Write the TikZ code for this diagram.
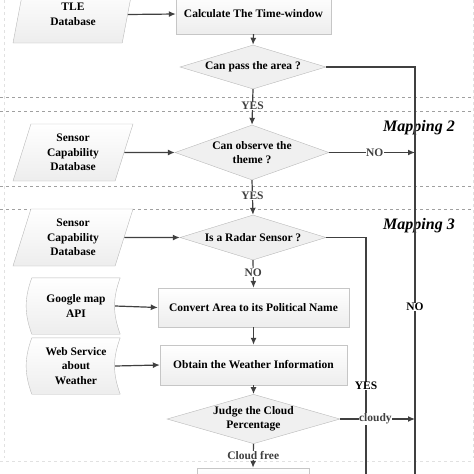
\documentclass[tikz,border=0pt]{standalone}
\usepackage{fontspec}
\setmainfont{Liberation Serif}
\usetikzlibrary{shapes.geometric,arrows.meta}
\definecolor{c1}{RGB}{240,240,240}
\definecolor{c2}{RGB}{64,64,64}
\definecolor{c3}{RGB}{160,160,160}
\definecolor{c4}{RGB}{225,225,225}

\begin{document}
\begin{tikzpicture}[x=1pt,y=-1pt,
    font=\bfseries\fontsize{11.5}{14.5}\selectfont,
    box/.style={rectangle,draw=gray!45,top color=white,bottom color=gray!14,inner sep=0pt},
    dec/.style={diamond,draw=gray!55,fill=c1,aspect=3.3,inner sep=0pt,align=center},
    data/.style={trapezium,trapezium left angle=64,trapezium right angle=116,
      trapezium stretches body,draw=gray!55,top color=white,bottom color=gray!14,
      minimum width=120,minimum height=57,inner sep=0pt,align=center},
    store/.style={rectangle,minimum width=88,minimum height=56,inner sep=0pt,align=center},
    ln/.style={c2,line width=1.2pt},
    arr/.style={ln,arrows={-Latex[length=7pt,width=6pt]}},
    lbl/.style={fill=white,inner sep=0.5pt},
    sep/.style={c3,dashed,line width=0.7pt}]
      \useasboundingbox (0,0) rectangle (474,474);
      \clip (0,0) rectangle (474,474);
      % region borders
      \draw[c4,dashed,line width=0.5pt] (4,0) -- (4,458);
      \draw[c4,dashed,line width=0.5pt] (473,0) -- (473,458);
      \draw[c4,dashed,line width=0.8pt] (0,461) -- (474,461);
      \draw[sep] (0,97) -- (472,97);
      \draw[sep] (0,111) -- (472,111);
      \draw[sep] (0,186) -- (472,186);
      \draw[sep] (0,209) -- (472,209);

      \node[data] (tle) at (73,14.5) {TLE\\Database};
      \node[box,minimum width=155,minimum height=40] (calc) at (253.5,14) {Calculate The Time-window};
      \node[dec,minimum width=146,minimum height=44] (pass) at (253,67) {Can pass the area ?};
      \node[data] (cap1) at (73,152.5) {Sensor\\Capability\\Database};
      \node[dec,minimum width=134,minimum height=55] (obs) at (252,152.5) {Can observe the\\theme ?};
      \node[data] (cap2) at (73,237.5) {Sensor\\Capability\\Database};
      \node[dec,minimum width=146,minimum height=45] (radar) at (253,237.5) {Is a Radar Sensor ?};
      \node[store] (gmap) at (76,306) {Google map\\API};
      \node[box,minimum width=191,minimum height=39] (conv) at (253.5,307.5) {Convert Area to its Political Name};
      \node[store] (web) at (76,366) {Web Service\\about\\Weather};
      \node[box,minimum width=187,minimum height=40] (wthr) at (253.5,365) {Obtain the Weather Information};
      \node[dec,minimum width=173,minimum height=43] (cloud) at (253.5,419) {Judge the Cloud\\Percentage};
      \node[box,minimum width=112,minimum height=30] (next) at (253,483) {};
      \node[font=\bfseries\itshape\fontsize{16}{18}\selectfont] (map2) at (419,128) {Mapping 2};
      \node[font=\bfseries\itshape\fontsize{16}{18}\selectfont] (map3) at (419,226) {Mapping 3};

      % stored data outlines
      \draw[draw=gray!55,top color=white,bottom color=gray!14] (gmap.north west) to[bend right=20] (gmap.south west)
        -- (gmap.south east) to[bend left=20] (gmap.north east) -- cycle;
      \draw[draw=gray!55,top color=white,bottom color=gray!14] (web.north west) to[bend right=20] (web.south west)
        -- (web.south east) to[bend left=20] (web.north east) -- cycle;
      \node[store] at (gmap) {Google map\\API};
      \node[store] at (web) {Web Service\\about\\Weather};

      \coordinate (r1) at (415,480);
      \coordinate (r2) at (366,480);
      \draw[arr] (tle.east) -- (calc.west);%tle-calc
      \draw[arr] (calc.south) -- (pass.north);%calc-pass
      \draw[ln] (pass.east) -| (r1);%pass-no
      \draw[arr] (pass.south) -- (obs.north) node[lbl,pos=0.47] {YES};%pass-obs
      \draw[arr] (cap1.east) -- (obs.west);%cap1-obs
      \draw[arr] (obs.east) -- (obs.east -| r1) node[lbl,pos=0.53] {NO};%obs-no
      \draw[arr] (obs.south) -- (radar.north) node[lbl,pos=0.45] {YES};%obs-radar
      \draw[arr] (cap2.east) -- (radar.west);%cap2-radar
      \draw[ln] (radar.east) -| (r2);%radar-yes
      \draw[arr] (radar.south) -- (conv.north) node[lbl,pos=0.45] {NO};%radar-conv
      \draw[arr] ([xshift=-5pt]gmap.east) -- (conv.west);%gmap-conv
      \draw[arr] (conv.south) -- (wthr.north);%conv-wthr
      \draw[arr] ([xshift=-5pt]web.east) -- (wthr.west);%web-wthr
      \draw[arr] (wthr.south) -- (cloud.north);%wthr-cloud
      \draw[arr] (cloud.east) -- (cloud.east -| r1) node[lbl,pos=0.47] {cloudy};%cloud-no
      \draw[arr] (cloud.south) -- (next.north) node[lbl,pos=0.5] {Cloud free};%cloud-next
      \node[lbl] (no1) at (415,307) {NO};
      \node[lbl] (yes1) at (366,386) {YES};
    \end{tikzpicture}
\end{document}
